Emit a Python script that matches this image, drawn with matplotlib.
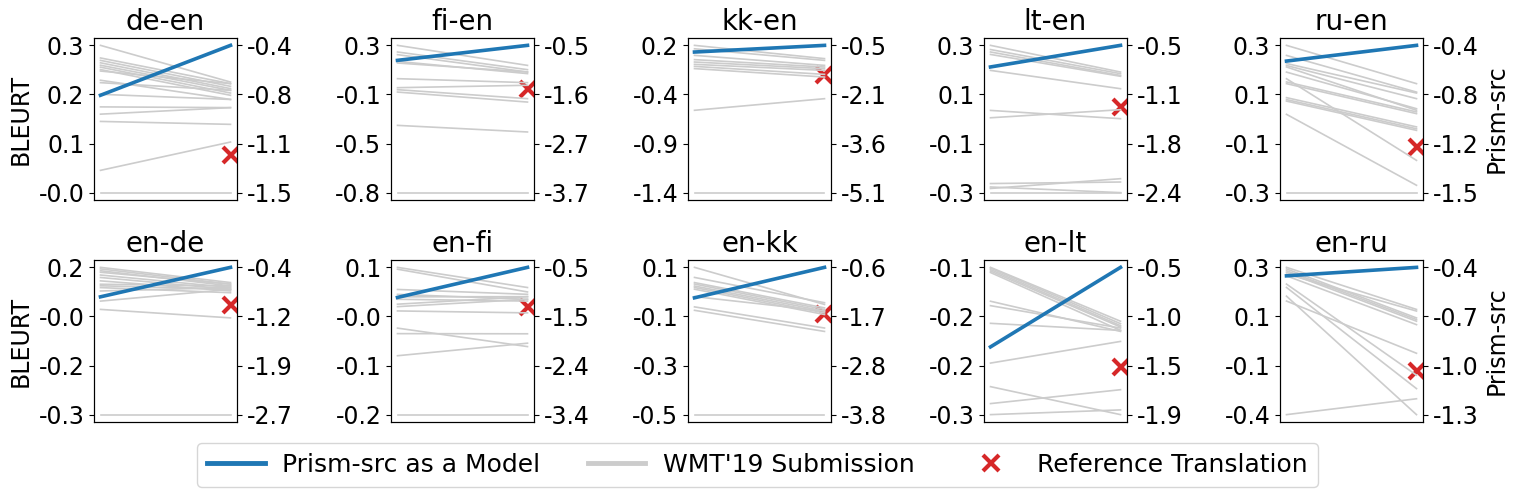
import matplotlib
matplotlib.use("Agg")
import matplotlib.pyplot as plt
import numpy as np
from matplotlib.lines import Line2D

# ---------------- data ----------------
pairs = ["de-en", "fi-en", "kk-en", "lt-en", "ru-en",
         "en-de", "en-fi", "en-kk", "en-lt", "en-ru"]

# Prism-src used as an MT system (blue line): BLEURT, Prism-src
model_bleurt = [0.197, 0.167, 0.098, 0.212, 0.236, 0.063, 0.026, -0.024, -0.208, 0.262]
model_prism = [-0.40, -0.52, -0.53, -0.50, -0.42, -0.40, -0.50, -0.62, -0.52, -0.40]

# Reference translation, Prism-src score (red x)
ref_prism = [-1.222, -1.461, -1.466, -1.296, -1.179, -0.980, -1.277, -1.631, -1.465, -1.033]

# WMT'19 submissions (grey lines)
de_en_bleurt = [0.300, 0.274, 0.269, 0.264, 0.259, 0.255, 0.250, 0.247, 0.228, 0.223,
                0.199, 0.173, 0.158, 0.143, 0.042, -0.004]
de_en_prism = [-0.674, -0.686, -0.706, -0.723, -0.736, -0.756, -0.773, -0.686, -0.804, -0.736,
               -0.804, -0.865, -0.865, -0.990, -1.122, -1.500]

fi_en_bleurt = [0.280, 0.230, 0.210, 0.159, 0.147, 0.029, -0.039, -0.054, -0.072, -0.323, -0.830]
fi_en_prism = [-0.955, -1.048, -1.099, -1.134, -1.099, -1.330, -1.387, -1.678, -1.752, -2.402, -3.720]

kk_en_bleurt = [0.170, 0.133, 0.062, 0.016, -0.010, -0.035, -0.057, -0.081, -0.531, -1.420]
kk_en_prism = [-0.943, -0.998, -1.154, -1.205, -1.255, -1.310, -1.434, -1.517, -2.192, -5.120]

lt_en_bleurt = [0.300, 0.283, 0.273, 0.263, 0.198, 0.035, 0.005, -0.263, -0.283, -0.277, -0.300]
lt_en_prism = [-0.844, -0.865, -0.888, -0.899, -1.059, -1.446, -1.330, -2.263, -2.220, -2.400, -2.400]

ru_en_bleurt = [0.300, 0.259, 0.226, 0.218, 0.212, 0.191, 0.164, 0.151, 0.144, 0.087,
                0.079, 0.073, 0.019, -0.300]
ru_en_prism = [-0.706, -0.769, -0.776, -0.818, -0.905, -0.893, -1.279, -0.917, -0.930, -1.029,
               -1.043, -1.055, -1.465, -1.520]

en_de_bleurt = [0.159, 0.154, 0.148, 0.143, 0.134, 0.126, 0.115, 0.104, 0.099, 0.093,
                0.082, 0.049, 0.022, -0.321]
en_de_prism = [-0.637, -0.662, -0.690, -0.662, -0.715, -0.743, -0.768, -0.690, -0.743, -0.796,
               -0.715, -0.743, -1.189, -2.700]

en_fi_bleurt = [0.075, 0.072, 0.039, 0.031, 0.027, 0.023, 0.015, 0.011, 0.004, -0.024,
                -0.033, -0.069, -0.165]
en_fi_prism = [-0.897, -0.984, -1.031, -1.129, -1.077, -1.164, -1.077, -1.129, -1.396, -2.060,
               -1.808, -1.993, -3.400]

en_kk_bleurt = [0.100, 0.059, 0.038, 0.032, 0.024, 0.018, 0.011, -0.019, -0.061, -0.075, -0.500]
en_kk_prism = [-1.426, -1.388, -1.500, -1.535, -1.570, -1.609, -1.644, -1.570, -1.938, -2.012, -3.820]

en_lt_bleurt = [-0.100, -0.101, -0.103, -0.105, -0.107, -0.146, -0.152, -0.176, -0.230,
                -0.262, -0.285, -0.300]
en_lt_prism = [-1.032, -1.055, -1.074, -1.087, -1.119, -1.129, -1.097, -1.119, -1.224,
               -1.920, -1.683, -1.875]

en_ru_bleurt = [0.300, 0.293, 0.285, 0.278, 0.270, 0.262, 0.225, 0.210, 0.171, 0.149, -0.360]
en_ru_prism = [-0.657, -0.709, -0.719, -0.729, -0.667, -0.750, -1.059, -1.141, -1.300, -0.925, -1.203]

sub_bleurt = [de_en_bleurt, fi_en_bleurt, kk_en_bleurt, lt_en_bleurt, ru_en_bleurt,
              en_de_bleurt, en_fi_bleurt, en_kk_bleurt, en_lt_bleurt, en_ru_bleurt]
sub_prism = [de_en_prism, fi_en_prism, kk_en_prism, lt_en_prism, ru_en_prism,
             en_de_prism, en_fi_prism, en_kk_prism, en_lt_prism, en_ru_prism]

# ---------------- style ----------------
BLUE = "#1f77b4"
GREY = "#cccccc"
RED = "#d62728"
TICK_FS = 17
TITLE_FS = 20
LABEL_FS = 17

W, H = 1515, 491
fig = plt.figure(figsize=(W / 100, H / 100), dpi=100)

col_left = [94, 391, 688, 984, 1280]
row_top = [38, 260]
aw, ah = 143, 162

for i, pair in enumerate(pairs):
    r, c = divmod(i, 5)
    ax = fig.add_axes([col_left[c] / W, 1 - (row_top[r] + ah) / H, aw / W, ah / H])
    b = np.array(sub_bleurt[i] + [model_bleurt[i]])
    p = np.array(sub_prism[i] + [model_prism[i]])
    bmin, bmax = b.min(), b.max()
    pmin, pmax = p.min(), p.max()

    def nb(v):
        return (v - bmin) / (bmax - bmin)

    def npr(v):
        return (v - pmin) / (pmax - pmin)

    ax.plot([1], [npr(ref_prism[i])], ls="none", marker="x", color=RED,
            ms=11, mew=3, zorder=1.5)
    for bv, pv in zip(sub_bleurt[i], sub_prism[i]):
        ax.plot([0, 1], [nb(bv), npr(pv)], color=GREY, lw=1.2, zorder=2)
    ax.plot([0, 1], [nb(model_bleurt[i]), npr(model_prism[i])], color=BLUE, lw=2.6, zorder=3)

    ax.set_xlim(-0.05, 1.05)
    ax.set_ylim(-0.05, 1.05)
    ax.set_xticks([])
    pos = [0, 1 / 3, 2 / 3, 1]
    ax.set_yticks(pos)
    ax.set_yticklabels([f"{v:.1f}" for v in np.linspace(bmin, bmax, 4)])
    ax.tick_params(axis="y", labelsize=TICK_FS)
    ax.set_title(pair, fontsize=TITLE_FS)

    ax2 = ax.twinx()
    ax2.set_ylim(-0.05, 1.05)
    ax2.set_yticks(pos)
    ax2.set_yticklabels([f"{v:.1f}" for v in np.linspace(pmin, pmax, 4)])
    ax2.tick_params(axis="y", labelsize=TICK_FS)
    if c == 0:
        ax.set_ylabel("BLEURT", fontsize=LABEL_FS)
    if c == 4:
        ax2.set_ylabel("Prism-src", fontsize=LABEL_FS)

handles = [Line2D([], [], color=BLUE, lw=3.5),
           Line2D([], [], color=GREY, lw=3.5),
           Line2D([], [], color=RED, ls="none", marker="x", ms=12, mew=3)]
labels = ["Prism-src as a Model", "WMT'19 Submission", "Reference Translation"]
fig.legend(handles, labels, loc="center", bbox_to_anchor=(0.5, 0.053), ncol=3,
           fontsize=18, handlelength=2.3, handletextpad=0.7, columnspacing=1.9,
           borderpad=0.4, frameon=True)

fig.savefig("out.png", dpi=100)
